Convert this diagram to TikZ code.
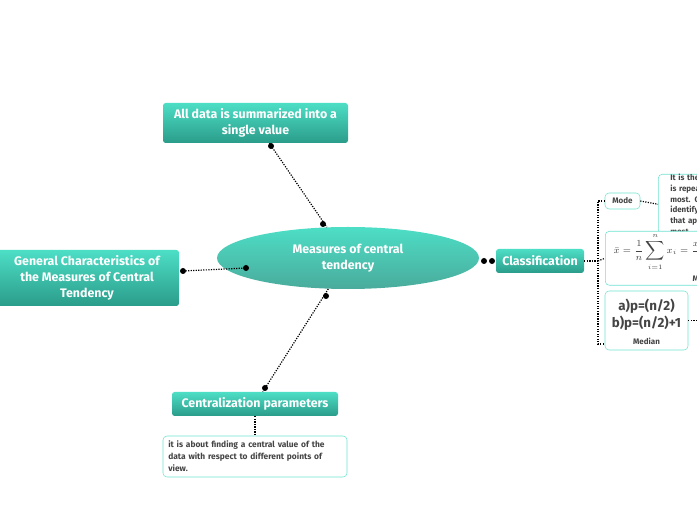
\documentclass[tikz,border=0pt]{standalone}
\usepackage{fontspec}
\setmainfont{Fira Sans}
\usetikzlibrary{shapes.geometric}
\definecolor{tealA}{HTML}{4DDEC6}
\definecolor{tealB}{HTML}{2A9C8A}
\definecolor{bord}{HTML}{6EE3D0}
\definecolor{txt}{HTML}{444444}
\begin{document}
\begin{tikzpicture}[x=0.75pt,y=-0.75pt,
  topic/.style={rounded corners=2pt,top color=tealA,bottom color=tealB,draw=none,text=white,font=\bfseries\fontsize{9.3}{12}\selectfont,align=center,inner sep=0pt},
  sub/.style={rounded corners=3pt,draw=bord,fill=white,text=txt,inner sep=0pt},
  conn/.style={densely dotted,line width=0.9pt},
  dot/.style={circle,fill=black,inner sep=0pt,minimum size=4.5pt}]
\useasboundingbox (0,0) rectangle (697,520);
\begin{scope}
\clip (0,0) rectangle (697,520);
\node[ellipse,minimum width=196.5pt,minimum height=46.5pt,top color=tealA,bottom color=tealB!85,text=white,font=\bfseries\fontsize{9.3}{12}\selectfont,align=center] (c) at (348,258) {Measures of central\\tendency};
\node[topic,minimum width=138.75pt,minimum height=30pt] (top) at (255.5,123) {All data is summarized into a\\single value};
\node[topic,minimum width=138pt,minimum height=42pt] (left) at (87,278) {General Characteristics of\\the Measures of Central\\Tendency};
\node[topic,minimum width=66pt,minimum height=18pt] (cls) at (540,261) {Classification};
\node[topic,minimum width=124.5pt,minimum height=18pt] (cp) at (255,404) {Centralization parameters};
\node[sub,minimum width=138pt,minimum height=30.75pt,font=\bfseries\fontsize{6.3}{9}\selectfont,align=left,text width=130pt] (desc) at (255,456.5) {it is about finding a central value of the data with respect to different points of view.};
\node[sub,minimum width=26.25pt,minimum height=12pt,font=\bfseries\fontsize{6}{7}\selectfont] (mode) at (622.5,201) {Mode};
\node[sub,anchor=north west,minimum width=112pt,minimum height=39.75pt,font=\bfseries\fontsize{6}{8}\selectfont,align=left,text width=100pt] (mt) at (658,174) {\hspace*{3pt}\parbox{58pt}{It is the value that is repeated the most. Often used to identify the value that appears the most.}};
\node[sub,anchor=north west,minimum width=150pt,minimum height=40.5pt] (mean) at (605,231) {};
\node[anchor=west,text=txt,font=\fontsize{7}{8}\selectfont] at (609,252) {$\displaystyle\bar{x}=\frac{1}{n}\sum_{i=1}^{n}x_i=\frac{x_1+\cdots}{n}$};
\node[text=txt,font=\bfseries\fontsize{6}{7}\selectfont,anchor=west] at (688,279) {Mean};
\node[sub,minimum width=62.25pt,minimum height=44.25pt] (med) at (646.5,320.5) {};
\node[text=txt,font=\bfseries\fontsize{10}{13}\selectfont,align=center] at (646.5,315) {a)p=(n/2)\\b)p=(n/2)+1};
\node[text=txt,font=\bfseries\fontsize{6}{7}\selectfont] at (646.5,341) {Median};
\coordinate (lend) at (183,271);
\coordinate (medr) at (700,320.5);
\draw[conn] (top) -- (c);
\node[dot] at (271,146) {}; \node[dot] at (323,224) {};
\draw[conn] (lend) -- (246,268);
\node[dot] at (183,271) {}; \node[dot] at (246,268) {};
\draw[conn] (c) -- (cp);
\node[dot] at (326,296) {}; \node[dot] at (265,388) {};
\node[dot] at (484,261) {}; \node[dot] at (492,261) {};
\draw[conn] (cls.east) -- (598,261);
\draw[conn] (mode.west) -| (598,344) -- (med.west |- 0,344);
\draw[conn] (598,261) -- (mean.west);
\draw[conn] (mode.east) -- (mt.west);
\draw[conn] (cp.south) -- (desc.north);
\draw[conn] (med.east) -- (medr);
\end{scope}
\end{tikzpicture}
\end{document}
